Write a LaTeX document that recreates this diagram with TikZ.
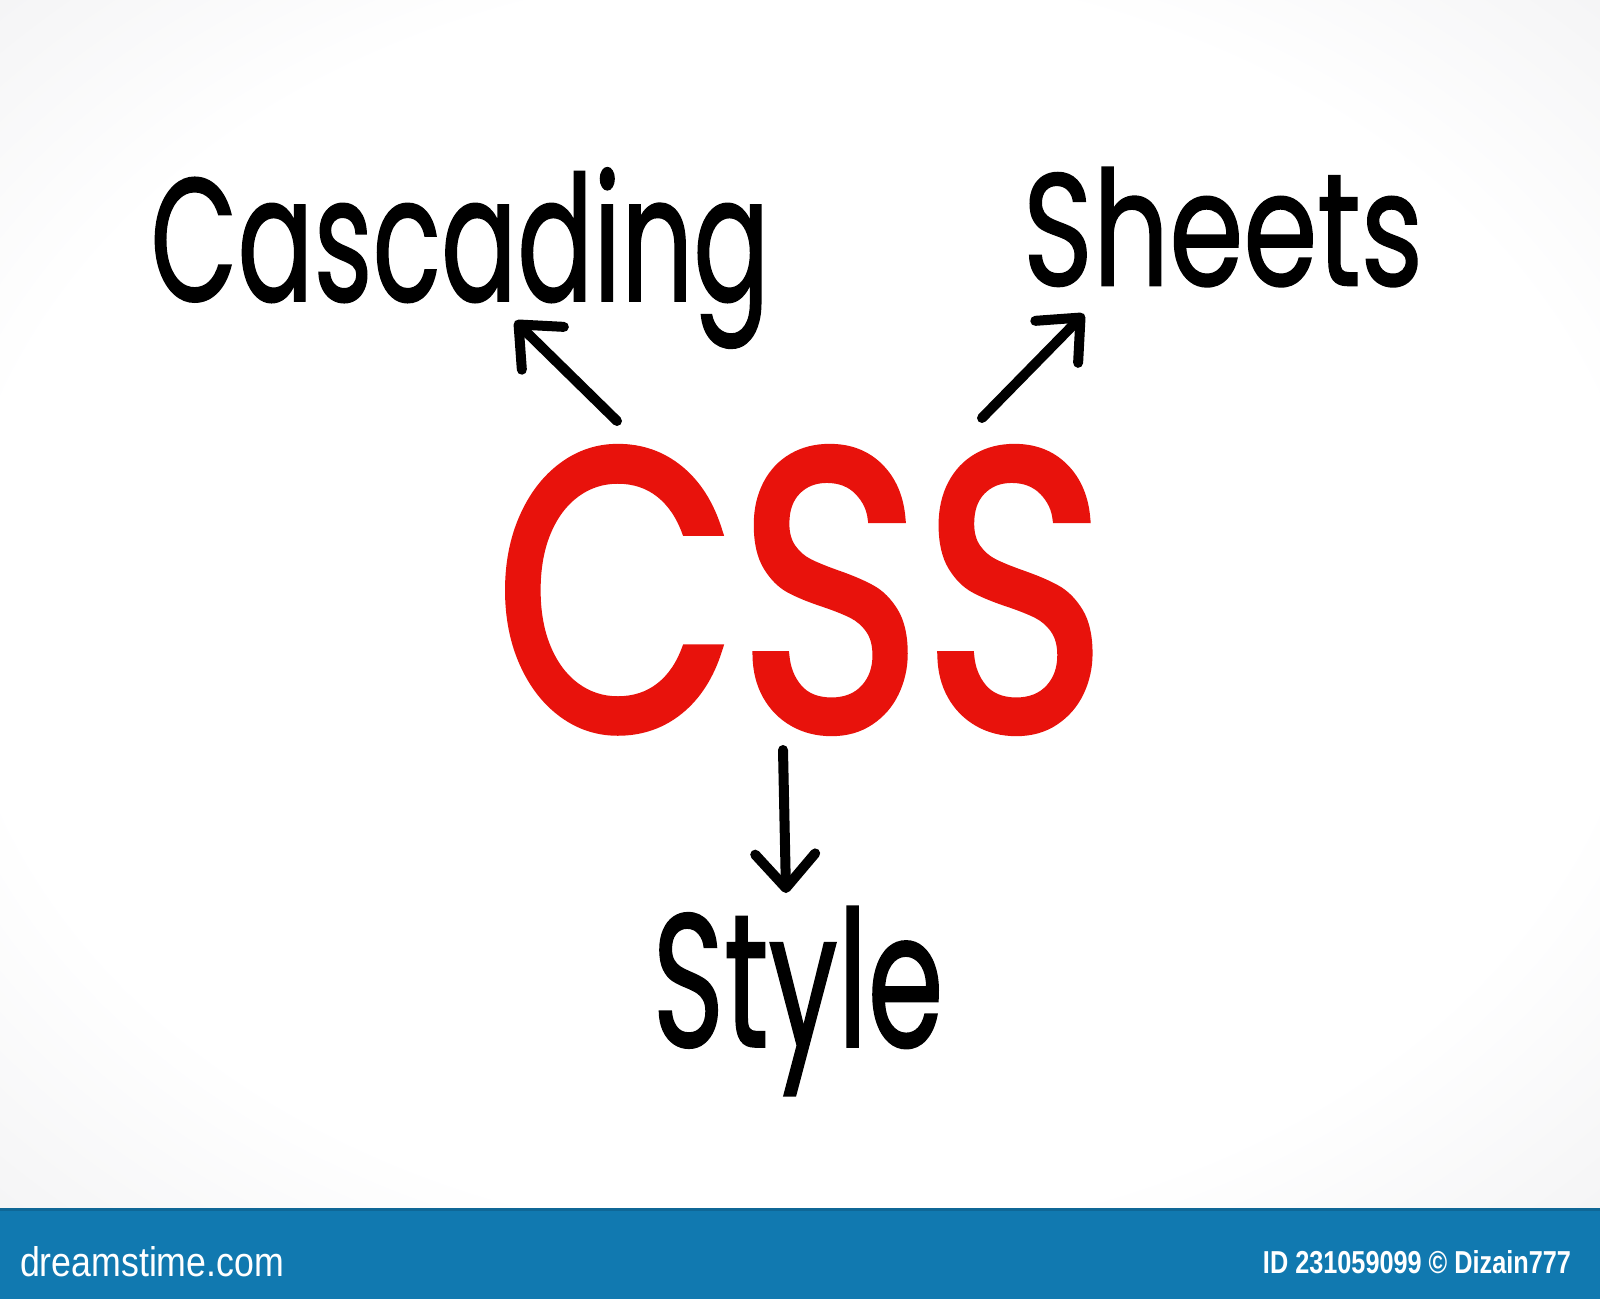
\documentclass[tikz,border=0pt]{standalone}
\usepackage{fontspec}
\setmainfont{Poppins}
\newfontfamily\bannerfont{Liberation Sans}
\usetikzlibrary{arrows.meta}
\definecolor{cssred}{RGB}{232,18,12}
\definecolor{bannerblue}{RGB}{17,121,176}
\definecolor{bgedge}{RGB}{229,229,232}
\definecolor{bgcorner}{RGB}{222,222,226}
\pgfdeclareradialshading{bgshade}{\pgfpoint{0bp}{0bp}}{color(0bp)=(white); color(26bp)=(white); color(50bp)=(bgedge); color(72bp)=(bgcorner)}
\begin{document}
\begin{tikzpicture}[x=0.5pt,y=-0.5pt,
  hand/.style={inner sep=0pt, outer sep=0pt, text=black},
  conn/.style={line width=5pt, line cap=round, line join=round,
    -{Straight Barb[length=17pt,width=30pt,line cap=round,line join=round]}},
  banner/.style={inner sep=0pt, outer sep=0pt, text=white}
]
\useasboundingbox (0,0) rectangle (1600,1299);
\shade[shading=bgshade] (0,0) rectangle (1600,1208);
\fill[bannerblue] (0,1208) rectangle (1600,1299);
\fill[bannerblue!85!black] (0,1208) rectangle (1600,1211);

\node[hand] (casc) at (460,258) {\resizebox{309.5pt}{66.5pt}{\addfontfeature{FakeBold=1.2}Cascading}};
\node[hand] (sheets) at (1223,227) {\resizebox{200pt}{59pt}{\addfontfeature{FakeBold=1.2}Sheets}};
\node[hand, text=cssred] (css) at (801,590) {\resizebox{306pt}{140.5pt}{\addfontfeature{FakeBold=2}CSS}};
\node[hand] (style) at (798,1001) {\resizebox{145.5pt}{70pt}{\addfontfeature{FakeBold=1.2}Style}};

\coordinate (c1s) at (617,421);
\coordinate (c1e) at (515,321);
\coordinate (c2s) at (982,418);
\coordinate (c2e) at (1084,314);
\coordinate (c3s) at (783,750);
\coordinate (c3e) at (786,893);
\draw[conn] (c1s) -- (c1e);
\draw[conn] (c2s) -- (c2e);
\draw[conn] (c3s) -- (c3e);

\node[banner, anchor=west] (logo) at (20,1262) {\resizebox{132pt}{15pt}{\bannerfont dreamstime.com}};
\node[banner, anchor=east] (imgid) at (1571,1262) {\resizebox{154pt}{11.5pt}{\bannerfont\bfseries ID 231059099 © Dizain777}};
\end{tikzpicture}
\end{document}
